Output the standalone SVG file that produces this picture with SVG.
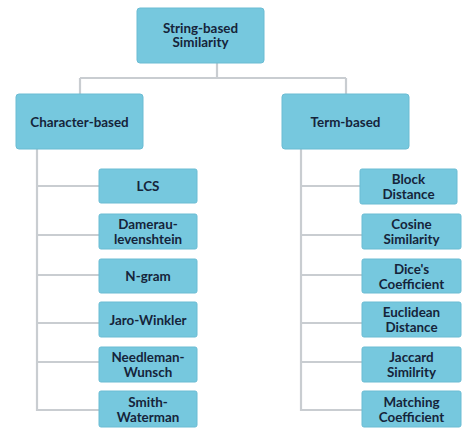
<svg xmlns="http://www.w3.org/2000/svg" width="474" height="439" viewBox="0 0 474 439">
<style>
.box{fill:#76c8de;stroke:#6bbcd3;stroke-width:1}
.t{font-family:Lato,"Liberation Sans",sans-serif;font-weight:bold;font-size:13.4px;fill:#15243a;text-anchor:middle}
.c{fill:none;stroke:#c9cdd1;stroke-width:2.2}
</style>
<rect width="474" height="439" fill="#ffffff"/>
<g id="connectors">
<path class="c" d="M217 63V78M80 78H346M80 78V94M346 78V94"/>
<path class="c" d="M37 149V411M37 186H99M37 235H99M37 275H99M37 323H99M37 362H99M37 410H99"/>
<path class="c" d="M301 149V411M301 186H360M301 235H362M301 275H362M301 323H362M301 362H362M301 410H362"/>
</g>
<g id="root"><rect class="box" x="137" y="8" width="127" height="55" rx="3"/><text class="t" x="200.5" y="32.5">String-based</text><text class="t" x="200.5" y="47">Similarity</text></g>
<g id="character-based"><rect class="box" x="16" y="94" width="127" height="55" rx="3"/><text class="t" x="79.5" y="127">Character-based</text></g>
<g id="term-based"><rect class="box" x="282" y="94" width="127" height="55" rx="3"/><text class="t" x="345.5" y="127">Term-based</text></g>
<g id="lcs"><rect class="box" x="99" y="169" width="98" height="34" rx="2"/><text class="t" x="148" y="191">LCS</text></g>
<g id="damerau"><rect class="box" x="99" y="214" width="98" height="35" rx="2"/><text class="t" x="148" y="229">Damerau-</text><text class="t" x="148" y="244">levenshtein</text></g>
<g id="ngram"><rect class="box" x="99" y="259" width="98" height="34" rx="2"/><text class="t" x="148" y="281">N-gram</text></g>
<g id="jaro"><rect class="box" x="99" y="302" width="98" height="35" rx="2"/><text class="t" x="148" y="324.5">Jaro-Winkler</text></g>
<g id="needleman"><rect class="box" x="99" y="347" width="98" height="35" rx="2"/><text class="t" x="148" y="362">Needleman-</text><text class="t" x="148" y="377">Wunsch</text></g>
<g id="smith"><rect class="box" x="99" y="391" width="98" height="36" rx="2"/><text class="t" x="148" y="406.5">Smith-</text><text class="t" x="148" y="421.5">Waterman</text></g>
<g id="block"><rect class="box" x="360" y="169" width="97" height="35" rx="2"/><text class="t" x="408.5" y="184">Block</text><text class="t" x="408.5" y="199">Distance</text></g>
<g id="cosine"><rect class="box" x="362" y="214" width="99" height="35" rx="2"/><text class="t" x="411.5" y="229">Cosine</text><text class="t" x="411.5" y="244">Similarity</text></g>
<g id="dice"><rect class="box" x="362" y="259" width="99" height="34" rx="2"/><text class="t" x="411.5" y="274">Dice's</text><text class="t" x="411.5" y="289">Coefficient</text></g>
<g id="euclidean"><rect class="box" x="362" y="302" width="99" height="35" rx="2"/><text class="t" x="411.5" y="317">Euclidean</text><text class="t" x="411.5" y="332">Distance</text></g>
<g id="jaccard"><rect class="box" x="362" y="347" width="99" height="35" rx="2"/><text class="t" x="411.5" y="362">Jaccard</text><text class="t" x="411.5" y="377">Similrity</text></g>
<g id="matching"><rect class="box" x="362" y="391" width="99" height="36" rx="2"/><text class="t" x="411.5" y="406.5">Matching</text><text class="t" x="411.5" y="421.5">Coefficient</text></g>
</svg>
